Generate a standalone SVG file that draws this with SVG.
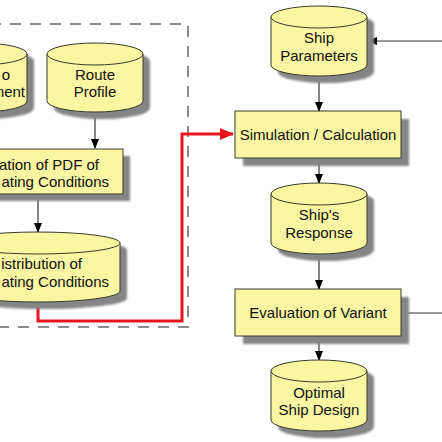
<svg xmlns="http://www.w3.org/2000/svg" width="442" height="442" viewBox="0 0 442 442">
<style>
.body{fill:#faf6a2;stroke:#3a3a2a;stroke-width:1}
.sh{fill:#858585;filter:url(#blur)}
.t{font-family:"Liberation Sans",Arial,sans-serif;font-size:15px;fill:#111}
.c{text-anchor:middle}
.e{text-anchor:end}
.ln{stroke:#333;stroke-width:1.2;fill:none}
</style>
<defs>
<filter id="blur" x="-10%" y="-10%" width="120%" height="120%"><feGaussianBlur stdDeviation="1"/></filter>
<marker id="ah" markerWidth="10" markerHeight="10" refX="9" refY="4" orient="auto" markerUnits="userSpaceOnUse"><path d="M0,0 L10,4 L0,8 Z" fill="#000"/></marker>
<marker id="ahr" markerWidth="14" markerHeight="14" refX="13" refY="6" orient="auto" markerUnits="userSpaceOnUse"><path d="M0,0 L14,6 L0,12 Z" fill="#e8141c"/></marker>
</defs>
<rect x="-10" y="24" width="198" height="303" fill="none" stroke="#8c8c8c" stroke-width="2" stroke-dasharray="11,9"/>
<g id="connectors">
<path class="ln" d="M95,112 V148" marker-end="url(#ah)"/>
<path class="ln" d="M38,194 V232" marker-end="url(#ah)"/>
<path d="M38,302 V321 H182 V134 H233" fill="none" stroke="#e8141c" stroke-width="3" marker-end="url(#ahr)"/>
<path class="ln" d="M442,41 H368" marker-end="url(#ah)"/>
<path class="ln" d="M319,76 V111" marker-end="url(#ah)"/>
<path class="ln" d="M319,158 V183" marker-end="url(#ah)"/>
<path class="ln" d="M319,254 V289" marker-end="url(#ah)"/>
<path class="ln" d="M319,336 V360" marker-end="url(#ah)"/>
<path class="ln" d="M401,313 H442"/>
</g>
<g id="left-cylinder">
<path class="sh" d="M-62,61 A48,11 0 0 1 34,61 V108 A48,11 0 0 1 -62,108 Z"/>
<path class="body" d="M-69,54 A48,11 0 0 1 27,54 V101 A48,11 0 0 1 -69,101 Z"/>
<path class="body" d="M-69,54 A48,11 0 0 0 27,54" fill="none"/>
<text class="t e" x="10" y="80">o</text>
<text class="t e" x="25" y="97">ment</text>
</g>
<g id="route-profile">
<path class="sh" d="M54,61 A48,11 0 0 1 150,61 V108 A48,11 0 0 1 54,108 Z"/>
<path class="body" d="M47,54 A48,11 0 0 1 143,54 V101 A48,11 0 0 1 47,101 Z"/>
<path class="body" d="M47,54 A48,11 0 0 0 143,54" fill="none"/>
<text class="t c" x="95" y="80">Route</text>
<text class="t c" x="95" y="97">Profile</text>
</g>
<g id="pdf-box">
<rect class="sh" x="-40" y="156" width="170" height="45"/>
<rect class="body" x="-47" y="149" width="170" height="45"/>
<text class="t e" x="99" y="170">ation of PDF of</text>
<text class="t e" x="109" y="187">ating Conditions</text>
</g>
<g id="distribution">
<path class="sh" d="M-37,250 A82,11 0 0 1 127,250 V298 A82,11 0 0 1 -37,298 Z"/>
<path class="body" d="M-44,243 A82,11 0 0 1 120,243 V291 A82,11 0 0 1 -44,291 Z"/>
<path class="body" d="M-44,243 A82,11 0 0 0 120,243" fill="none"/>
<text class="t e" x="82" y="269">istribution of</text>
<text class="t e" x="109" y="287">ating Conditions</text>
</g>
<g id="ship-parameters">
<path class="sh" d="M278,24 A48,11 0 0 1 374,24 V72 A48,11 0 0 1 278,72 Z"/>
<path class="body" d="M271,17 A48,11 0 0 1 367,17 V65 A48,11 0 0 1 271,65 Z"/>
<path class="body" d="M271,17 A48,11 0 0 0 367,17" fill="none"/>
<text class="t c" x="319" y="43">Ship</text>
<text class="t c" x="319" y="61">Parameters</text>
</g>
<g id="simulation">
<rect class="sh" x="243" y="119" width="166" height="47"/>
<rect class="body" x="235" y="111" width="166" height="47"/>
<text class="t c" x="318" y="140">Simulation / Calculation</text>
</g>
<g id="ships-response">
<path class="sh" d="M278,201 A48,11 0 0 1 374,201 V250 A48,11 0 0 1 278,250 Z"/>
<path class="body" d="M271,194 A48,11 0 0 1 367,194 V243 A48,11 0 0 1 271,243 Z"/>
<path class="body" d="M271,194 A48,11 0 0 0 367,194" fill="none"/>
<text class="t c" x="319" y="220">Ship's</text>
<text class="t c" x="319" y="238">Response</text>
</g>
<g id="evaluation">
<rect class="sh" x="243" y="297" width="166" height="47"/>
<rect class="body" x="235" y="289" width="166" height="47"/>
<text class="t c" x="318" y="318">Evaluation of Variant</text>
</g>
<g id="optimal">
<path class="sh" d="M278,378 A48,11 0 0 1 374,378 V427 A48,11 0 0 1 278,427 Z"/>
<path class="body" d="M271,371 A48,11 0 0 1 367,371 V420 A48,11 0 0 1 271,420 Z"/>
<path class="body" d="M271,371 A48,11 0 0 0 367,371" fill="none"/>
<text class="t c" x="319" y="398">Optimal</text>
<text class="t c" x="319" y="415">Ship Design</text>
</g>
</svg>
